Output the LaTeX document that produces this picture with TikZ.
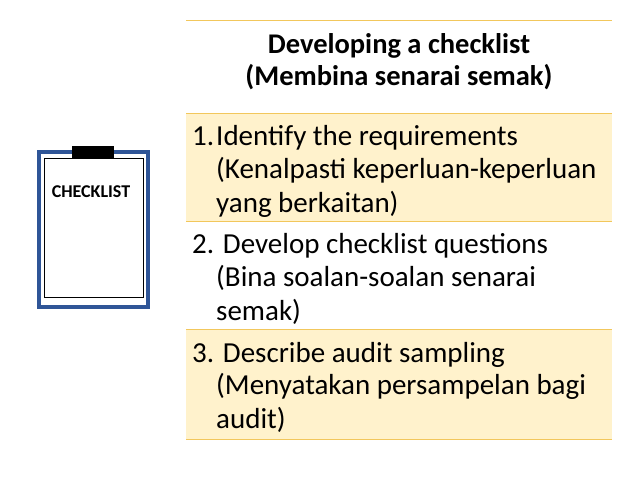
\documentclass[tikz,border=0pt]{standalone}
\usepackage{fontspec}
\setmainfont{Carlito}
\definecolor{rowy}{HTML}{FFF2CC}
\definecolor{gold}{HTML}{F2C75C}
\definecolor{clipblue}{HTML}{2F5597}
\begin{document}
\begin{tikzpicture}[x=1pt,y=-1pt,
  txt/.style={anchor=base west,inner sep=0pt,font=\fontsize{29}{33}\selectfont},
  hdr/.style={anchor=base,inner sep=0pt,font=\fontsize{28.5}{33}\selectfont\bfseries}]
\useasboundingbox (0,0) rectangle (638,478);
\fill[rowy] (186,114) rectangle (612,222);
\fill[rowy] (186,330) rectangle (612,440);
\foreach \y in {21,114,222,330,440} \draw[gold,line width=1pt] (186,\y) -- (612,\y);
\node[hdr] (h1) at (399,54) {Developing a checklist};
\node[hdr] (h2) at (399,86) {(Membina senarai semak)};
\node[txt] (a0) at (192,146) {1.};
\node[txt] (a1) at (216,146) {Identify the requirements};
\node[txt] (a2) at (216,179) {(Kenalpasti keperluan-keperluan};
\node[txt] (a3) at (216,213) {yang berkaitan)};
\node[txt] (b1) at (192,254) {2. Develop checklist questions};
\node[txt] (b2) at (216,287) {(Bina soalan-soalan senarai};
\node[txt] (b3) at (216,321) {semak)};
\node[txt] (c1) at (192,363) {3. Describe audit sampling};
\node[txt] (c2) at (216,395) {(Menyatakan persampelan bagi};
\node[txt] (c3) at (216,429) {audit)};
% clipboard
\draw[clipblue,line width=3.5pt] (39,152) rectangle (148,307);
\draw[black,line width=0.8pt,fill=white] (44,158) rectangle (143,297);
\fill[black] (72,146) rectangle (114,159);
\node[inner sep=0pt,font=\fontsize{18}{20}\selectfont\bfseries] (cl) at (91,192) {CHECKLIST};
\end{tikzpicture}
\end{document}
